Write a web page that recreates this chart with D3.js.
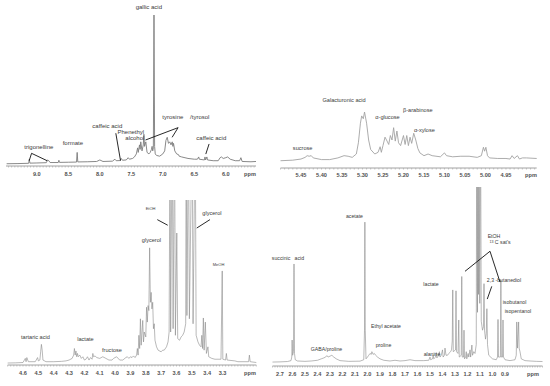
<!DOCTYPE html>
<html><head><meta charset="utf-8">
<script src="https://cdn.jsdelivr.net/npm/d3@7"></script>
<style>
html,body{margin:0;padding:0;background:#fff;}
svg{display:block;font-family:"Liberation Sans",Arial,sans-serif;}
</style></head>
<body>
<svg id="chart" width="550" height="386"></svg>
<script>
// ---------- DATA (ppm, relative intensity) ----------
const p1Ticks = [9.0, 8.5, 8.0, 7.5, 7.0, 6.5, 6.0];
const p1Spectrum = [[9.48,1.5],[9.3,1.6],[9.13,1.8],[9.12,4.5],[9.11,1.9],[9.0,2],[8.85,2.2],[8.83,4],[8.81,3.5],[8.79,2.3],[8.66,2.3],[8.65,3.8],[8.64,2.4],[8.5,2.5],[8.37,2.6],[8.36,9],[8.35,2.7],[8.2,2.8],[8.05,3],[8.0,4],[7.95,3],[7.8,3.2],[7.76,4.5],[7.74,3.5],[7.68,3.6],[7.66,5],[7.64,3.8],[7.58,4],[7.55,5.5],[7.53,4.5],[7.48,5],[7.45,6],[7.42,8],[7.40,12],[7.39,9],[7.37,14],[7.36,11],[7.35,16],[7.33,10],[7.31,14],[7.30,21],[7.29,13],[7.27,16],[7.25,9],[7.22,8],[7.20,9],[7.18,11],[7.17,13],[7.16,10],[7.15,12],[7.14,100],[7.13,13],[7.12,8],[7.10,7],[7.05,6.5],[7.0,8],[6.97,10],[6.95,17],[6.93,19],[6.91,15],[6.89,16],[6.87,14],[6.85,16],[6.84,13],[6.83,15],[6.81,10],[6.78,8],[6.75,7.5],[6.74,6.5],[6.70,6],[6.6,5],[6.5,4.5],[6.45,4.5],[6.43,6],[6.42,4.5],[6.34,4],[6.33,6],[6.32,4],[6.30,6],[6.29,4],[6.2,3.5],[6.12,3.5],[6.09,5.5],[6.07,6],[6.04,5],[6.0,5.5],[5.97,6],[5.93,4.5],[5.85,3.5],[5.78,3.5],[5.76,5.5],[5.74,3],[5.6,2.8],[5.52,3]];
const p1Labels = [["gallic acid",7.222,105.3],["caffeic acid",7.881,26.5],["Phenethyl",7.508,22.5],["alcohol",7.444,18.5],["tyrosine",6.841,32.5],["/tyrosol",6.413,32.5],["caffeic acid",6.230,18.5],["trigonelline",8.968,12.6],["formate",8.429,15.2]];
const p1Leaders = [[9.084,8.4,9.122,3.5],[9.084,8.4,8.837,3.5],[7.746,21.7,7.671,3.5],[6.757,25.4,7.275,17.2],[6.757,25.4,6.852,19.0],[6.265,14.6,6.317,7.9]];

const p2Ticks = [5.45,5.40,5.35,5.30,5.25,5.20,5.15,5.10,5.05,5.00,4.95];
const p2Spectrum = [[5.50,13],[5.47,14],[5.45,16],[5.44,19],[5.435,22],[5.43,21],[5.425,22],[5.42,18],[5.40,15],[5.38,15],[5.36,18],[5.345,22],[5.335,21],[5.325,19],[5.315,25],[5.31,45],[5.305,80],[5.302,93],[5.298,88],[5.295,100],[5.29,80],[5.285,50],[5.28,33],[5.27,25],[5.262,28],[5.257,38],[5.254,28],[5.25,40],[5.245,55],[5.24,48],[5.236,42],[5.232,58],[5.228,50],[5.224,72],[5.22,48],[5.216,66],[5.212,45],[5.207,40],[5.2,58],[5.196,42],[5.192,58],[5.188,40],[5.184,55],[5.18,44],[5.175,62],[5.17,50],[5.165,35],[5.16,27],[5.15,22],[5.14,25],[5.13,22],[5.11,20],[5.10,27],[5.095,22],[5.08,20],[5.06,21],[5.04,21],[5.02,19],[5.01,22],[5.005,37],[5.002,30],[4.999,37],[4.995,22],[4.99,18],[4.97,17],[4.95,17],[4.94,16],[4.935,22],[4.93,17],[4.922,22],[4.917,16],[4.91,18],[4.90,18],[4.875,17]];
const p2Labels = [["Galacturonic acid",5.345,121.4],["α-glucose",5.239,91.1],["β-arabinose",5.165,103.6],["α-xylose",5.149,67.9],["sucrose",5.446,35.7]];

const p3Ticks = [4.6,4.5,4.4,4.3,4.2,4.1,4.0,3.9,3.8,3.7,3.6,3.5,3.4,3.3];
const p3Spectrum = [[4.70,1.2],[4.65,1.3],[4.6,1.5],[4.585,4],[4.58,2],[4.575,4.5],[4.565,2],[4.52,2],[4.505,4.5],[4.50,2.5],[4.49,3],[4.485,8],[4.48,12.5],[4.475,9],[4.47,3],[4.45,2],[4.40,2],[4.35,2.2],[4.32,2.5],[4.30,3],[4.28,4],[4.27,6],[4.265,10],[4.26,6],[4.255,8.5],[4.25,5],[4.245,7],[4.24,5],[4.23,6],[4.22,4],[4.21,5],[4.20,3],[4.19,3.5],[4.18,5],[4.17,3],[4.16,4.5],[4.15,3.5],[4.145,7],[4.14,5],[4.13,5.5],[4.12,4.5],[4.10,4],[4.08,5],[4.06,4],[4.04,3],[4.02,3],[4.01,4],[3.99,5],[3.97,3],[3.95,3],[3.93,4.5],[3.92,5],[3.91,4],[3.90,5],[3.89,4.5],[3.88,5.5],[3.87,4.5],[3.86,6],[3.855,10],[3.85,6],[3.845,18],[3.84,10],[3.835,28],[3.83,12],[3.82,27],[3.815,14],[3.81,20],[3.80,17],[3.795,35],[3.79,26],[3.785,36],[3.78,33],[3.775,71],[3.77,38],[3.765,44],[3.76,34],[3.755,38],[3.75,22],[3.745,25],[3.74,15],[3.73,11],[3.72,9],[3.70,8],[3.69,9],[3.68,9],[3.665,11],[3.655,14],[3.648,20],[3.642,150],[3.638,20],[3.628,150],[3.622,22],[3.613,150],[3.607,18],[3.598,80],[3.592,16],[3.58,15],[3.57,17],[3.56,18],[3.55,20],[3.54,25],[3.537,150],[3.532,30],[3.522,150],[3.516,28],[3.498,150],[3.492,25],[3.478,150],[3.472,18],[3.46,14],[3.45,12],[3.44,11],[3.435,18],[3.43,10],[3.425,28.5],[3.42,9],[3.412,26],[3.405,7],[3.395,11],[3.39,5],[3.37,4],[3.35,3.5],[3.33,3.5],[3.31,3.5],[3.302,57],[3.298,3.5],[3.28,3],[3.275,7],[3.27,3],[3.22,2.5],[3.20,2],[3.13,2],[3.125,6],[3.12,2],[3.08,1.5]];
const p3Labels = [["tartaric acid",4.519,17.0,5.6],["lactate",4.193,15.8,5.6],["fructose",4.020,9.1,5.6],["glycerol",3.763,75.8,5.6],["EtOH",3.769,94.5,4],["glycerol",3.369,92.1,5.6],["MeOH",3.326,60.6,4]];
const p3Leaders = [[3.725,88.1,3.657,84.7],[3.382,88.1,3.468,83.0]];

const p4Ticks = [2.7,2.6,2.5,2.4,2.3,2.2,2.1,2.0,1.9,1.8,1.7,1.6,1.5,1.4,1.3,1.2,1.1,1.0,0.9];
const p4Spectrum = [[2.76,2.2],[2.70,2.3],[2.64,2.5],[2.612,3],[2.606,5],[2.603,14.5],[2.599,6],[2.592,8],[2.588,57],[2.584,7],[2.578,3.5],[2.56,2.8],[2.50,2.6],[2.45,2.8],[2.40,3.2],[2.37,4],[2.35,4.5],[2.335,5],[2.325,5.8],[2.315,5],[2.30,5.5],[2.285,6],[2.27,5],[2.25,4],[2.22,3],[2.15,2.6],[2.06,2.7],[2.03,3.5],[2.024,20],[2.021,80.4],[2.018,20],[2.012,4],[2.0,5],[1.99,6],[1.98,7],[1.97,6.5],[1.965,8],[1.955,6.5],[1.945,7],[1.935,6],[1.92,5],[1.90,4],[1.87,3.2],[1.82,2.8],[1.78,3.2],[1.74,2.8],[1.70,3],[1.66,3.5],[1.62,3],[1.55,3],[1.51,3.2],[1.50,5],[1.495,3.5],[1.48,4],[1.475,6],[1.47,4],[1.455,5],[1.45,7.5],[1.445,4.5],[1.43,6],[1.425,8],[1.42,5],[1.41,6],[1.40,9],[1.395,5],[1.385,6],[1.38,10],[1.372,6],[1.36,6],[1.35,7],[1.335,8],[1.328,9],[1.322,14],[1.318,42.5],[1.314,8],[1.296,9],[1.292,42],[1.288,8],[1.276,7],[1.27,25.7],[1.266,5],[1.25,6],[1.246,50],[1.242,5],[1.232,5],[1.228,20],[1.224,4],[1.215,5],[1.21,8],[1.206,4],[1.195,7],[1.19,5],[1.18,9],[1.175,5],[1.165,11.7],[1.16,6],[1.15,8],[1.14,7],[1.13,12],[1.126,150],[1.12,30],[1.117,150],[1.112,40],[1.108,150],[1.102,35],[1.096,150],[1.09,25],[1.08,20],[1.072,22],[1.068,46],[1.064,20],[1.056,15],[1.05,18],[1.045,32],[1.04,12],[1.03,6],[1.0,4],[0.97,3.5],[0.96,5],[0.956,26],[0.952,5],[0.937,5],[0.933,48],[0.929,5],[0.92,5],[0.916,25.7],[0.912,5],[0.90,3.5],[0.86,3],[0.82,3.5],[0.81,6],[0.806,24.6],[0.80,10],[0.791,24.6],[0.787,10],[0.78,8],[0.77,4],[0.74,3],[0.70,2.8],[0.65,2.6],[0.60,2.5]];
const p4Labels = [["succinic   acid",2.636,60.3],["acetate",2.104,83.8],["GABA/proline",2.328,9.5],["Ethyl acetate",1.852,22.3],["proline",1.872,11.7],["alanine",1.484,6.7],["lactate",1.492,45.8],["EtOH",0.988,72.6],["2,3 -butanediol",0.908,48.0],["isobutanol",0.824,35.8],["isopentanol",0.796,30.7]];
const p4Leaders = [[1.02,64.1,1.22,52.9],[1.02,64.1,0.94,46.9],[1.006,44.5,1.042,37.4]];

// ---------- DRAWING ----------
const svg = d3.select("#chart");

function panel(cfg){
  const g = svg.append("g");
  const x = d3.scaleLinear().domain(cfg.domain).range(cfg.xr);
  const y = d3.scaleLinear().domain([0,100]).range([cfg.axisY, cfg.topY]);
  const id = "clip"+cfg.id;
  svg.append("clipPath").attr("id",id).append("rect")
    .attr("x",cfg.xr[0]-2).attr("y",cfg.topY).attr("width",cfg.xr[1]-cfg.xr[0]+4).attr("height",cfg.axisY-cfg.topY);
  // axis
  const ax = g.append("g").attr("transform",`translate(0,${cfg.axisY})`);
  ax.append("line").attr("x1",cfg.xr[0]).attr("x2",cfg.xr[1]).attr("stroke","#8a8a8a").attr("stroke-width",0.8);
  const lo = Math.min(...cfg.domain), hi = Math.max(...cfg.domain);
  const minor = d3.range(Math.ceil(lo/cfg.minor-1e-9)*cfg.minor, hi+1e-9, cfg.minor);
  ax.selectAll("line.mn").data(minor).join("line").attr("class","mn")
    .attr("x1",d=>x(d)).attr("x2",d=>x(d)).attr("y1",0).attr("y2",1.6)
    .attr("stroke","#9a9a9a").attr("stroke-width",0.5);
  ax.selectAll("text.tk").data(cfg.ticks).join("text").attr("class","tk")
    .attr("x",d=>x(d)).attr("y",cfg.labOff).attr("text-anchor","middle")
    .attr("font-size",5.6).attr("font-weight","bold").attr("fill","#505050")
    .text(d=>d3.format(cfg.fmt)(d));
  ax.append("text").attr("x",cfg.ppmX).attr("y",cfg.labOff).attr("text-anchor","middle")
    .attr("font-size",5.6).attr("font-weight","bold").attr("fill","#505050").text("ppm");
  // spectrum
  const line = d3.line().x(d=>x(d[0])).y(d=>y(d[1]));
  g.append("path").datum(cfg.spec).attr("d",line).attr("fill","none")
    .attr("stroke",cfg.color).attr("stroke-width",cfg.sw).attr("stroke-linejoin","round")
    .attr("clip-path",`url(#${id})`);
  // labels
  g.selectAll("text.lb").data(cfg.labels).join("text").attr("class","lb")
    .attr("x",d=>x(d[1])).attr("y",d=>y(d[2])).attr("dy","0.35em").attr("text-anchor","middle")
    .attr("font-size",d=>d[3]||cfg.fs).attr("fill","#3a3a3a").style("white-space","pre")
    .text(d=>d[0]);
  g.selectAll("line.ld").data(cfg.leaders||[]).join("line").attr("class","ld")
    .attr("x1",d=>x(d[0])).attr("y1",d=>y(d[1])).attr("x2",d=>x(d[2])).attr("y2",d=>y(d[3]))
    .attr("stroke","#111").attr("stroke-width",0.9);
  return {g,x,y};
}

panel({id:1,domain:[9.49,5.52],xr:[6,256],axisY:166,topY:15,ticks:p1Ticks,fmt:".1f",minor:0.05,labOff:10,ppmX:250,
  spec:p1Spectrum,color:"#7c7c7c",sw:0.9,labels:p1Labels,leaders:p1Leaders,fs:6});
panel({id:2,domain:[5.50,4.875],xr:[280.5,536.7],axisY:168,topY:112,ticks:p2Ticks,fmt:".2f",minor:0.01,labOff:8.5,ppmX:531,
  spec:p2Spectrum,color:"#a3a3a3",sw:0.9,labels:p2Labels,fs:5.6});
panel({id:3,domain:[4.70,3.08],xr:[7.65,256.3],axisY:365,topY:200,ticks:p3Ticks,fmt:".1f",minor:0.02,labOff:10,ppmX:250,
  spec:p3Spectrum,color:"#8a8a8a",sw:0.6,labels:p3Labels,leaders:p3Leaders,fs:5.6});
const P4 = panel({id:4,domain:[2.76,0.60],xr:[272.5,542.5],axisY:366,topY:187,ticks:p4Ticks,fmt:".1f",minor:0.02,labOff:9.5,ppmX:533,
  spec:p4Spectrum,color:"#8a8a8a",sw:0.6,labels:p4Labels,leaders:p4Leaders,fs:5.2});
// "13C sat's" with superscript
const t = P4.g.append("text").attr("x",P4.x(0.94)).attr("y",P4.y(68.2)).attr("dy","0.35em")
  .attr("text-anchor","middle").attr("font-size",5.2).attr("fill","#3a3a3a");
t.append("tspan").attr("font-size",3.6).attr("dy","-0.15em").text("13");
t.append("tspan").attr("dy","0.15em").text(" C sat's");
</script>
</body></html>
